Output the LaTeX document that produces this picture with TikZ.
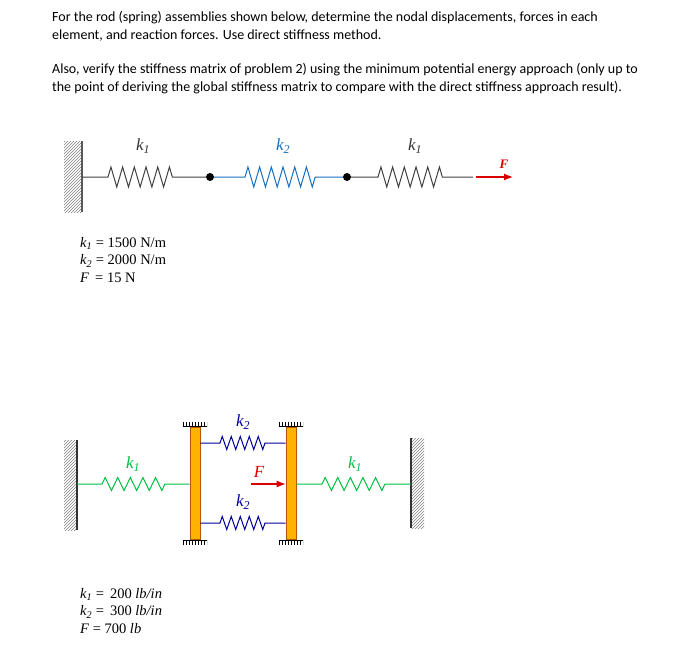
\documentclass[tikz,border=0pt]{standalone}
\usepackage{fontspec}
\setmainfont{Carlito}
\newfontfamily\tms{Liberation Serif}
\usetikzlibrary{decorations.pathmorphing,patterns,arrows.meta}
\begin{document}
\begin{tikzpicture}[x=1pt,y=-1pt,
  txt/.style={anchor=west,inner sep=0,font=\fontsize{14}{16}\selectfont},
  par/.style={anchor=west,inner sep=0,font=\tms\fontsize{14.5}{17.5}\selectfont,align=left},
  klab/.style={inner sep=0,font=\tms\itshape\fontsize{17}{17}\selectfont},
  zz/.style={decorate,decoration={zigzag,segment length=#1,amplitude=10pt}},
  zs/.style={decorate,decoration={zigzag,segment length=#1,amplitude=6.5pt}},
  wallL/.style={pattern=north east lines,pattern color=gray,draw=none},
  dot/.style={circle,fill=black,inner sep=0,minimum size=8pt},
  bar/.style={draw=orange!70!black,fill=orange!60!yellow,line width=0.6pt},
  sup/.style={pattern=vertical lines,draw=none}]
\useasboundingbox (0,0) rectangle (700,665);
\node[txt] (t1) at (52,18) {For the rod (spring) assemblies shown below, determine the nodal displacements, forces in each};
\node[txt] (t2) at (52,36) {element, and reaction forces. Use direct stiffness method.};
\node[txt] (t3) at (52,70) {Also, verify the stiffness matrix of problem 2) using the minimum potential energy approach (only up to};
\node[txt] (t4) at (52,88) {the point of deriving the global stiffness matrix to compare with the direct stiffness approach result).};
% diagram 1
\fill[wallL] (64,141) rectangle (82,212);
\draw[line width=1.2pt,gray!70!black] (82,141) -- (82,212);
\coordinate (w1) at (82,177);
\node[dot] (n1) at (210,177) {};
\node[dot] (n2) at (347,177) {};
\coordinate (e1) at (473,177);
\draw[line width=1pt,black!75] (w1) -- (108,177) decorate[zz=11.7pt]{-- (178,177)} -- (n1);
\draw[line width=1pt,cyan!50!blue] (n1) -- (245,177) decorate[zz=11.7pt]{-- (316,177)} -- (n2);
\draw[line width=1pt,black!75] (n2) -- (378,177) decorate[zz=11.7pt]{-- (448,177)} -- (e1);
\coordinate (f1) at (513,177);
\draw[red!85!black,line width=1.2pt,-{Latex[length=9pt,width=7pt]}] (476,177) -- (f1);
\node[klab,black!80] (ka) at (143,146) {k\textsubscript{\itshape 1}};
\node[klab,cyan!50!blue] (kb) at (283,146) {k\textsubscript{\itshape 2}};
\node[klab,black!80] (kc) at (415,146) {k\textsubscript{\itshape 1}};
\node[klab,red!85!black,font=\tms\bfseries\itshape\fontsize{13}{13}\selectfont] (fl) at (504,164) {F};
\node[par] (p1) at (80,260) {\textit{k\textsubscript{1}} = 1500 N/m\\\textit{k\textsubscript{2}} = 2000 N/m\\\textit{F} \,= 15 N};
% diagram 2
\fill[wallL] (64,440) rectangle (77,530);
\draw[line width=1.5pt,black!80] (77,440) -- (77,530);
\fill[wallL] (411,438) rectangle (424,528);
\draw[line width=1.5pt,black!80] (411,438) -- (411,528);
\foreach \xx/\nm in {195/lb,291/rb}{
  \fill[sup] (\xx-12,422) rectangle (\xx+12,426);
  \draw[line width=1pt] (\xx-12,426) -- (\xx+12,426);
  \fill[sup] (\xx-12,540) rectangle (\xx+12,544);
  \draw[line width=1pt] (\xx-12,540) -- (\xx+12,540);
  \node[bar,minimum width=10pt,minimum height=112pt,inner sep=0] (\nm) at (\xx,483) {};
}
\coordinate (wl) at (77,484);
\coordinate (wr) at (411,484);
\draw[line width=1pt,green!50!teal] (wl) -- (102,484) decorate[zs=12.6pt]{-- (165,484)} -- (lb.west |- wl);
\draw[line width=1pt,green!50!teal] (rb.east |- wr) -- (322,484) decorate[zs=12.6pt]{-- (385,484)} -- (wr);
\draw[line width=1pt,blue!60!black] (lb.east |- 0,443) -- (220,443) decorate[zs=9pt]{-- (265,443)} -- (rb.west |- 0,443);
\draw[line width=1pt,blue!60!black] (lb.east |- 0,523) -- (220,523) decorate[zs=9pt]{-- (265,523)} -- (rb.west |- 0,523);
\draw[red!85!black,line width=1.2pt,-{Latex[length=9pt,width=7pt]}] (251,484) -- (rb.west |- 0,484);
\node[klab,blue!60!black] (k2a) at (243,422) {k\textsubscript{\itshape 2}};
\node[klab,blue!60!black] (k2b) at (243,502) {k\textsubscript{\itshape 2}};
\node[klab,green!50!teal] (k1a) at (133,464) {k\textsubscript{\itshape 1}};
\node[klab,green!50!teal] (k1b) at (355,464) {k\textsubscript{\itshape 1}};
\node[klab,red!85!black] (f2) at (259,472) {F};
\node[par] (p2) at (80,611) {\textit{k\textsubscript{1}} = \,200 \textit{lb/in}\\\textit{k\textsubscript{2}} = \,300 \textit{lb/in}\\\textit{F} = 700 \textit{lb}};
\end{tikzpicture}
\end{document}
